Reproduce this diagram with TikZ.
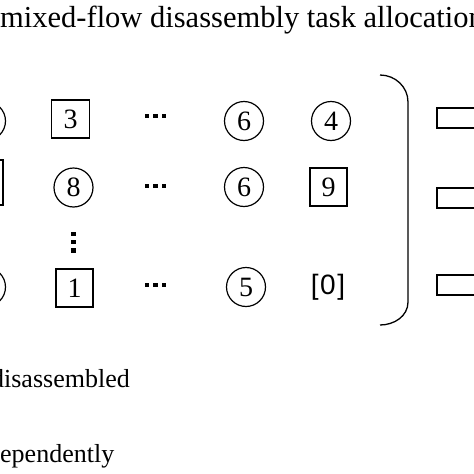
\documentclass[tikz,border=0pt]{standalone}
\usepackage{fontspec}
\setmainfont{Liberation Serif}
\newfontfamily\zerofont{Liberation Sans}
\usepackage{tikz}
\usetikzlibrary{positioning}
\tikzstyle{circnode}=[draw,circle,line width=1.2pt,minimum size=39pt,inner sep=0pt,font=\fontsize{28}{30}\selectfont]
\tikzstyle{sqnode}=[draw,rectangle,line width=1.2pt,minimum width=38pt,minimum height=38pt,inner sep=0pt,font=\fontsize{28}{30}\selectfont]
\tikzstyle{bigdot}=[fill=black,minimum size=4.3pt,inner sep=0pt]
\tikzstyle{slot}=[draw,line width=1.4pt]

\begin{document}
\begin{tikzpicture}[x=1pt,y=-1pt]
\useasboundingbox (0,0) rectangle (474,474);
\clip (0,0) rectangle (474,474);

% title
\node[anchor=base west,inner sep=0pt,font=\fontsize{30.5}{32}\selectfont] (title) at (0,27) {mixed-flow disassembly task allocation};

% first row
\node [circnode] (a0) at (-14,121) {};
\node [sqnode] (a1) at (70.5,119) {3};
\node [circnode] (a3) at (244,121) {6};
\node [circnode] (a4) at (331,121) {4};

% second row
\node [sqnode,minimum width=40pt,minimum height=45pt] (b0) at (-17,182.5) {};
\node [circnode] (b1) at (73.5,187.5) {8};
\node [circnode] (b3) at (244,187) {6};
\node [sqnode,minimum width=37pt] (b4) at (328.5,187) {9};

% last row
\node [circnode] (c0) at (-14,287) {};
\node [sqnode,minimum width=37pt] (c1) at (74.5,288) {1};
\node [circnode] (c3) at (246,287) {5};
\node [inner sep=0pt,font=\zerofont\fontsize{28}{30}\selectfont] (c4) at (328,287) {[\kern1.5pt0\kern1.5pt]};

% dots between columns
\foreach \r/\y in {a/116,b/186,c/285}{
  \foreach \x [count=\i] in {147,155.5,164}
    \node [bigdot] (\r d\i) at (\x,\y) {};
}
% dots between rows
\foreach \y [count=\i] in {234,242,250.5}
  \node [bigdot] (vd\i) at (73.5,\y) {};

% bracket
\draw[line width=1.3pt] (380,75) to[out=0,in=90] (408,102) -- (408,302) to[out=-90,in=0] (380,325);

% slots on the right
\draw[slot] (480,108) -- (437,108) -- (437,128) -- (480,128);
\draw[slot] (480,188) -- (437,188) -- (437,208) -- (480,208);
\draw[slot] (480,275) -- (437,275) -- (437,295) -- (480,295);

% notes
\node[anchor=base east,inner sep=0pt,font=\fontsize{26}{28}\selectfont] (note1) at (130,387) {disassembled};
\node[anchor=base west,inner sep=0pt,font=\fontsize{26}{28}\selectfont] (note2) at (0,462) {ependently};
\end{tikzpicture}
\end{document}
